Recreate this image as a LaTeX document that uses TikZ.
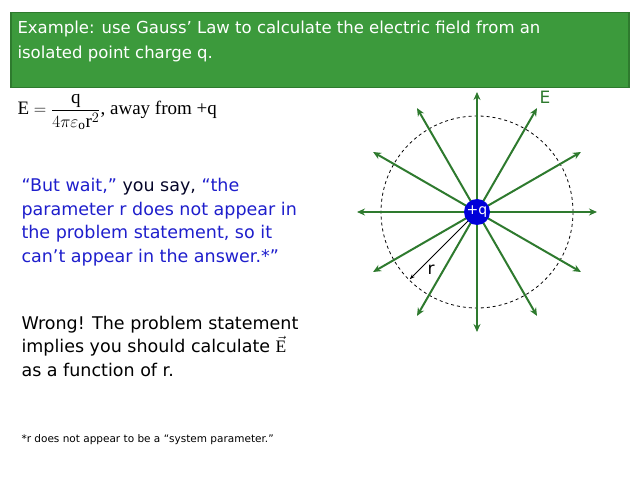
\documentclass[tikz,border=0pt]{standalone}
\usepackage{amsmath}
\usepackage{fontspec}
\setmainfont{Liberation Serif}
\newfontfamily\tah{DejaVu Sans}
\usetikzlibrary{arrows.meta,calc}
\definecolor{fgreen}{HTML}{2E7A2E}
\definecolor{bgreen}{HTML}{3C9A3C}
\definecolor{tblue}{HTML}{1E1ECC}
\begin{document}
\begin{tikzpicture}[x=1pt,y=-1pt,
  field/.style={draw=fgreen,line width=2pt,-{Stealth[length=8pt,width=7pt]}},
  body/.style={anchor=west,font=\tah\fontsize{17.5}{23.5}\selectfont,align=left}]
\useasboundingbox (0,0) rectangle (638,478);
\node[draw=fgreen,line width=1.5pt,fill=bgreen,minimum width=618,minimum height=75,anchor=north west,inner sep=0] (title) at (10,12) {};
\node[anchor=west,text=white,font=\tah\fontsize{16.5}{25}\selectfont,align=left] (tt) at (14,41) {Example: use Gauss’ Law to calculate the electric field from an\\isolated point charge q.};
\node[anchor=west,font=\fontsize{19}{21}\selectfont] (eq) at (14,112) {$\mathrm{E}=\dfrac{\mathrm{q}}{4\pi\varepsilon_{\mathrm{o}}\mathrm{r}^{2}}$, away from +q};
\node[body,text=tblue] (b1) at (18,222) {“But wait,” \textcolor{black!80!tblue}{you say,} “the\\parameter r does not appear in\\the problem statement, so it\\can’t appear in the answer.*”};
\node[body] (b2) at (18,346) {Wrong! The problem statement\\implies you should calculate {\fontspec{Liberation Serif}$\vec{\mathrm{E}}$}\\as a function of r.};
\node[anchor=west,font=\tah\fontsize{10.5}{13}\selectfont] (fn) at (18,440) {*r does not appear to be a “system parameter.”};
\coordinate (c) at (477,212);
\draw[dashed,line width=0.8pt] (c) circle (96);
\foreach \a in {0,30,...,330}{
  \coordinate (t\a) at ($(c)+(\a:120)$);
  \draw[field] (c) -- (t\a);}
\coordinate (re) at ($(c)+(135:95)$);
\draw[line width=0.8pt,-{Stealth[length=5pt]}] (c) -- (re);
\node[font=\tah\fontsize{17}{20}\selectfont] (rl) at (431,270) {r};
\node[font=\tah\fontsize{17}{20}\selectfont,text=fgreen] (E) at (545,97) {E};
\node[circle,fill=blue!85!black,minimum size=26,inner sep=0,text=white,font=\tah\fontsize{14}{14}\selectfont] (q) at (c) {+q};
\end{tikzpicture}
\end{document}
